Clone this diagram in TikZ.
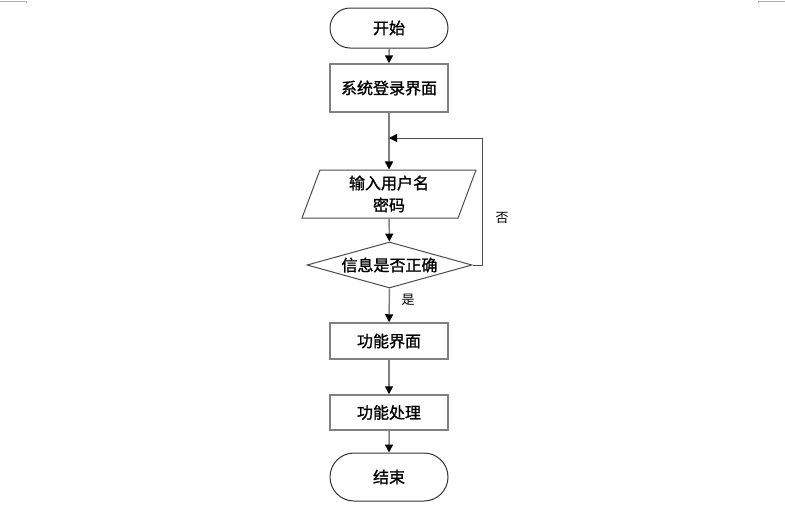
\documentclass[tikz,border=0pt]{standalone}
\usepackage{fontspec}
\newfontfamily\cjk{Noto Sans CJK SC}
\newfontfamily\cjkb[FakeBold=1.2]{Noto Sans CJK SC}
\usetikzlibrary{shapes.geometric,shapes.misc,arrows.meta}

\tikzset{
  base/.style={font=\cjkb\fontsize{16}{22}\selectfont, inner sep=0pt, align=center},
  terminal/.style={base, rounded rectangle, draw=black!80, line width=1pt, minimum width=118pt},
  stepbox/.style={base, rectangle, draw=black!50, line width=1.5pt, minimum width=118pt},
  inputbox/.style={base, trapezium, trapezium left angle=64, trapezium right angle=116,
    trapezium stretches body, draw=black!70, line width=1pt, minimum width=174pt, minimum height=48pt},
  decision/.style={base, diamond, aspect=3.6, draw=black!70, line width=1pt,
    minimum width=165pt, minimum height=46pt},
  flow/.style={draw=black!50, line width=1.5pt, -{Triangle[width=8pt,length=8pt,color=black]}},
  back/.style={draw=black!70, line width=1pt, -{Triangle[width=8pt,length=8pt,color=black]}},
  tag/.style={font=\cjk\fontsize{13}{15}\selectfont, inner sep=0pt}
}

\begin{document}
\begin{tikzpicture}[x=1pt, y=-1pt]
  \useasboundingbox (0,0) rectangle (785,504);
  % page corner marks
  \draw[black!30, line width=1pt] (0,1) -- (26,1) -- (26,3);
  \draw[black!30, line width=1pt] (785,1) -- (758,1) -- (758,3);

  \node[terminal, minimum height=40pt] (start) at (389,28) {开始};
  \node[stepbox, minimum height=48pt] (login) at (389,88) {系统登录界面};
  \node[inputbox] (input) at (389,194) {输入用户名\\密码};
  \node[decision] (check) at (389.5,265) {信息是否正确};
  \node[stepbox, minimum height=36pt] (menu) at (389,341) {功能界面};
  \node[stepbox, minimum height=35pt] (work) at (389,412.5) {功能处理};
  \node[terminal, minimum height=48pt] (stop) at (389,477) {结束};
  \coordinate (merge) at (389,138);

  \draw[flow] (start) -- (login);
  \draw[flow] (login) -- (input);
  \draw[flow] (input) -- (check);
  \draw[flow] (check) -- (menu);
  \draw[flow] (menu) -- (work);
  \draw[flow] (work) -- (stop);
  \draw[back] (check.east) -- ++(10,0) |- (merge);

  \node[tag] (no) at (502,218) {否};
  \node[tag] (yes) at (408,300) {是};
\end{tikzpicture}
\end{document}
